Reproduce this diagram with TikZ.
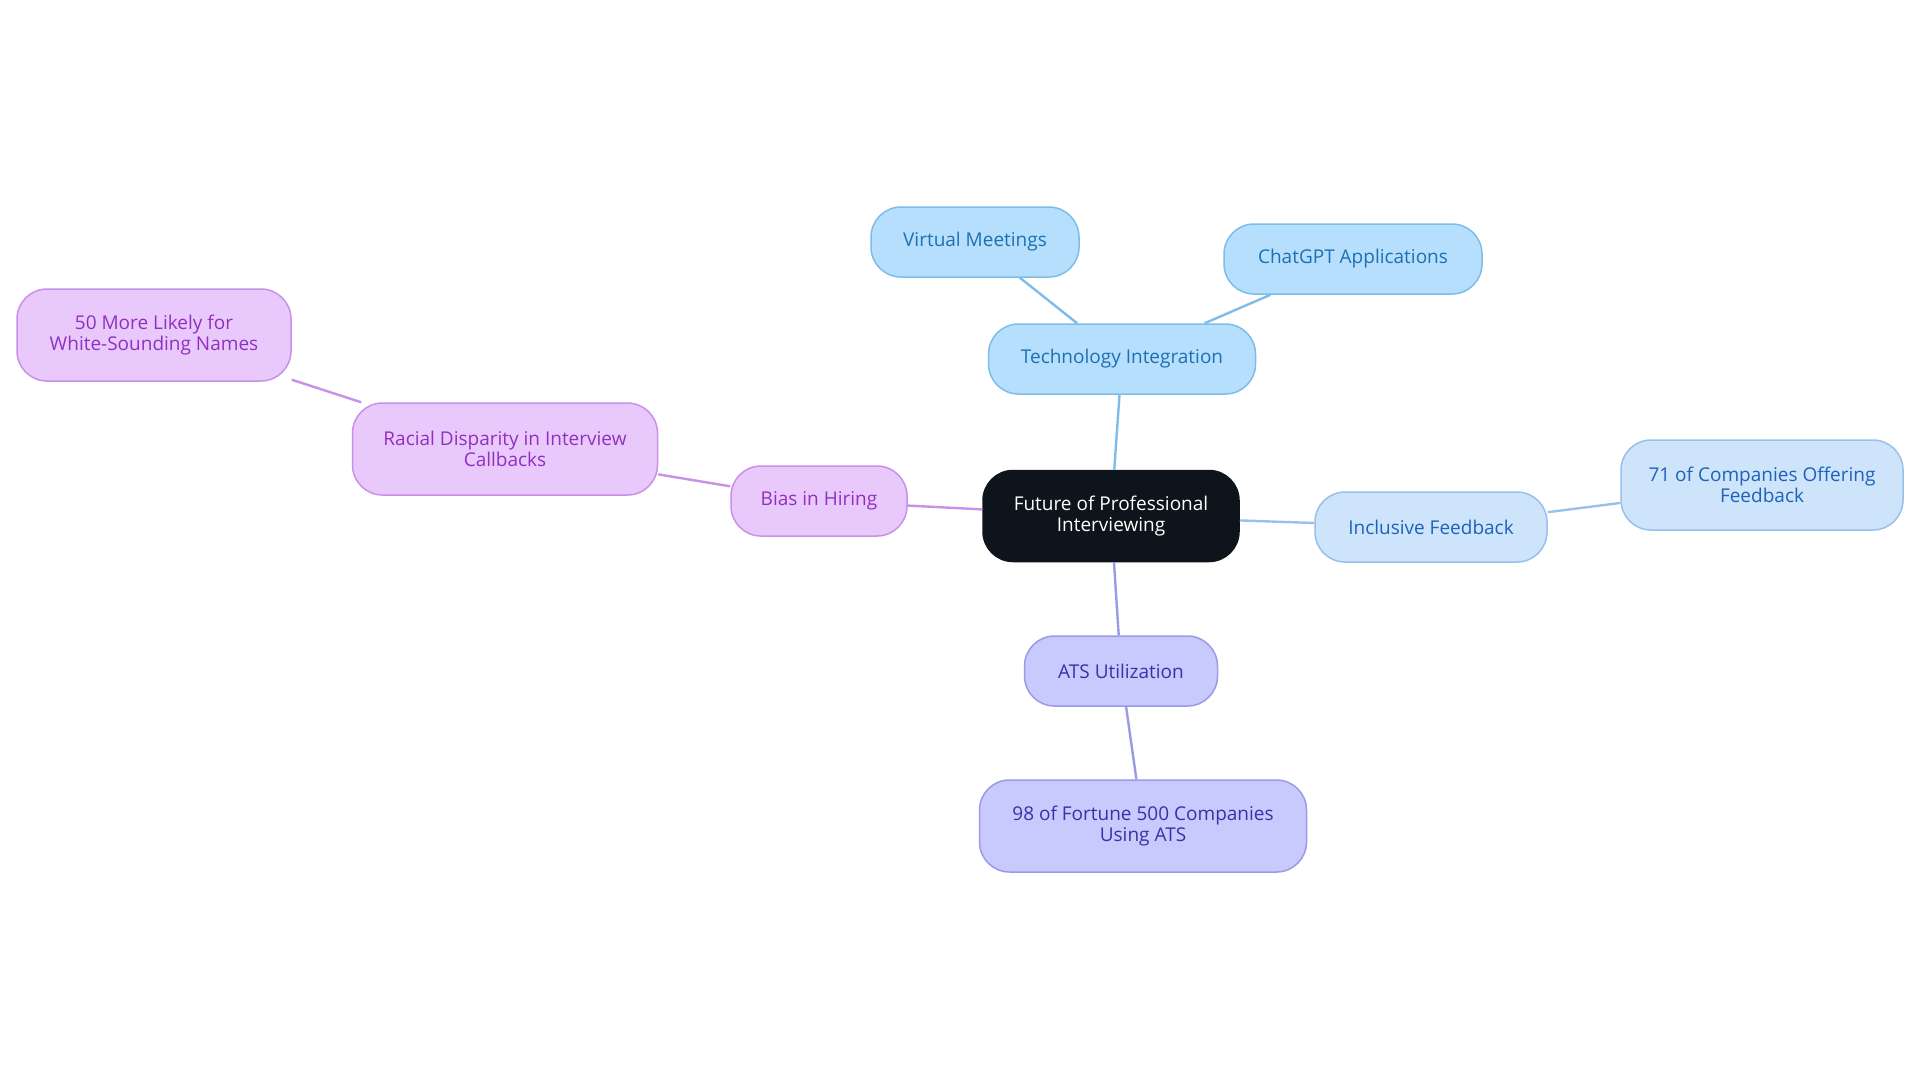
\documentclass[tikz,border=0pt]{standalone}
\usepackage{fontspec}
\setmainfont{Open Sans}
\usepackage{xcolor,tikz}
\usetikzlibrary{positioning,calc}
\definecolor{mapRootBg}{HTML}{0D141C}
\definecolor{mapBlueLine}{HTML}{7DBDE8}
\definecolor{mapBlueBg}{HTML}{B5DFFC}
\definecolor{mapBlueText}{HTML}{1F70B0}
\definecolor{mapSkyLine}{HTML}{98C0EC}
\definecolor{mapSkyBg}{HTML}{CDE4FA}
\definecolor{mapSkyText}{HTML}{1E62BC}
\definecolor{mapPurpleLine}{HTML}{C890E8}
\definecolor{mapPurpleBg}{HTML}{E9C9FC}
\definecolor{mapPurpleText}{HTML}{9030C0}
\definecolor{mapIndigoLine}{HTML}{9A9AE6}
\definecolor{mapIndigoBg}{HTML}{C8C9FC}
\definecolor{mapIndigoText}{HTML}{3434A8}
\tikzset{
  map box/.style={
    rectangle, rounded corners=15pt,
    minimum height=35pt, inner xsep=12pt,
    line width=0.75pt, font=\fontsize{9.5}{10.5}\selectfont,
    align=center,
  },
  map root/.style={map box, fill=mapRootBg, draw=mapRootBg, text=white,
    minimum height=45.5pt},
  map blue/.style={map box, fill=mapBlueBg, draw=mapBlueLine, text=mapBlueText},
  map sky/.style={map box, fill=mapSkyBg, draw=mapSkyLine, text=mapSkyText},
  map purple/.style={map box, fill=mapPurpleBg, draw=mapPurpleLine, text=mapPurpleText},
  map indigo/.style={map box, fill=mapIndigoBg, draw=mapIndigoLine, text=mapIndigoText},
  map link/.style={line width=1.2pt},
}

\begin{document}
\begin{tikzpicture}[x=0.5pt,y=-0.5pt]
\useasboundingbox (0,0) rectangle (1920,1083);

% --- ROOT ---
\node[map root, minimum width=128pt] (root) at (1111,516)
  {Future of Professional\\Interviewing};

% --- TECHNOLOGY BRANCH ---
\node[map blue, minimum width=133.5pt] (tech) at (1122,359) {Technology Integration};
\node[map blue, minimum width=104pt] (virtual) at (975,242) {Virtual Meetings};
\node[map blue, minimum width=129pt] (chatgpt) at (1353,259) {ChatGPT Applications};

% --- FEEDBACK BRANCH ---
\node[map sky, minimum width=116pt] (feedback) at (1431,527) {Inclusive Feedback};
\node[map sky, minimum width=141pt, minimum height=45pt] (offering) at (1762,485)
  {71 of Companies Offering\\Feedback};

% --- ATS BRANCH ---
\node[map indigo, minimum width=96.5pt] (ats) at (1121,671) {ATS Utilization};
\node[map indigo, minimum width=163.5pt, minimum height=46pt] (fortune) at (1143,826)
  {98 of Fortune 500 Companies\\Using ATS};

% --- BIAS BRANCH ---
\node[map purple, minimum width=88pt] (bias) at (819,501) {Bias in Hiring};
\node[map purple, minimum width=152.5pt, minimum height=46pt] (racial) at (505,449)
  {Racial Disparity in Interview\\Callbacks};
\node[map purple, minimum width=137pt, minimum height=46pt] (likely) at (154,335)
  {50 More Likely for\\White-Sounding Names};

% --- LINKS ---
\foreach \a/\b/\col in {root/tech/mapBlueLine, tech/virtual/mapBlueLine,
    tech/chatgpt/mapBlueLine, root/feedback/mapSkyLine, feedback/offering/mapSkyLine,
    root/ats/mapIndigoLine, ats/fortune/mapIndigoLine, root/bias/mapPurpleLine,
    bias/racial/mapPurpleLine, racial/likely/mapPurpleLine} {
  \draw[map link, color=\col] (\a) -- (\b);
}

\end{tikzpicture}
\end{document}
